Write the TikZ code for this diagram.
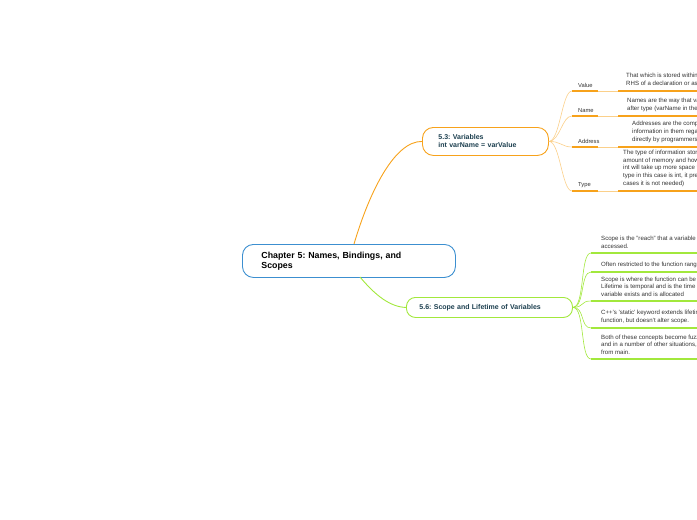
\documentclass[tikz,border=0pt]{standalone}
\usepackage{fontspec}
\setmainfont{Liberation Sans}
\frenchspacing
\definecolor{org}{HTML}{F7A21B}
\definecolor{orgl}{HTML}{FBD08A}
\definecolor{grn}{HTML}{A2E83C}
\definecolor{grnl}{HTML}{CFF59A}
\definecolor{blu}{HTML}{3C8FD0}
\definecolor{ttl}{HTML}{1C3F4F}
\definecolor{txt}{HTML}{333333}
\begin{document}
\begin{tikzpicture}[x=1pt,y=-1pt,
  topic/.style={draw,rounded corners=11pt,line width=0.9pt,font=\bfseries,align=left,inner sep=0pt,anchor=north west},
  small/.style={font=\fontsize{6.1}{7.8}\selectfont,text=txt,align=left,inner sep=0pt,anchor=south west},
  lbl/.style={font=\fontsize{5.8}{6.5}\selectfont,text=txt,inner sep=0pt,anchor=south west}]
\useasboundingbox (0,0) rectangle (697,520);
\clip (0,0) rectangle (697,520);
% root
\node[topic,draw=blu,minimum width=213pt,minimum height=33pt,text width=213pt,font=\fontsize{8.8}{10}\selectfont\bfseries,text=black] (root) at (242,244) {\hspace*{19pt}Chapter 5: Names, Bindings, and\\\hspace*{19pt}Scopes};
% variables
\node[topic,draw=org,minimum width=126pt,minimum height=28pt,text width=126pt,font=\fontsize{7}{8}\selectfont\bfseries,text=ttl] (var) at (422,127) {\hspace*{16pt}5.3: Variables\\\hspace*{16pt}int varName = varValue};
% scope
\node[topic,draw=grn,rounded corners=9pt,minimum width=166pt,minimum height=20pt,text width=166pt,font=\fontsize{7}{8}\selectfont\bfseries,text=ttl] (scp) at (406,297) {\hspace*{13pt}5.6: Scope and Lifetime of Variables};
\coordinate (rv) at (354,244);
\coordinate (rs) at (360,277);
\draw[org,line width=0.9pt] (rv) .. controls (370,190) and (395,141) .. (var.west);
\draw[grn,line width=0.9pt] (rs) .. controls (375,295) and (390,307) .. (scp.west);
% variable children
\foreach \nm/\y/\lab/\tx/\tX in {
  a/91/Value/{That which is stored within a variable, the\\RHS of a declaration or assignment}/626,
  b/116/Name/{Names are the way that variables are referred to,\\after type (varName in the example)}/627,
  c/147/Address/{Addresses are the computer memory locations that hold\\information in them regarding the variable; not used\\directly by programmers in most languages}/632,
  d/191/Type/{The type of information stored, which determines the\\amount of memory and how it is interpreted; e.g. a\\int will take up more space than a char. The\\type in this case is int, it precedes the name (in some\\cases it is not needed)}/623}{
  \coordinate (s\nm) at (572,\y);
  \draw[orgl,line width=0.6pt] (var.east) .. controls (560,141) and (562,\y) .. (s\nm);
  \draw[org,line width=1.3pt] (s\nm) -- (598,\y);
  \draw[orgl,line width=0.6pt] (598,\y) -- (618,\y);
  \draw[org,line width=1.3pt] (618,\y) -- (697,\y);
  \node[lbl] (l\nm) at (578,\y-3) {\lab};
  \node[small] (t\nm) at (\tX,\y-4) {\tx};
}
% scope children
\foreach \nm/\y/\tx in {
  a/253/{Scope is the "reach" that a variable has, where it can be\\accessed.},
  b/272/{Often restricted to the function range},
  c/301/{Scope is where the function can be accessed;\\Lifetime is temporal and is the time in which the\\variable exists and is allocated},
  d/328/{C++'s 'static' keyword extends lifetime beyond the\\function, but doesn't alter scope.},
  e/359/{Both of these concepts become fuzzy in C++\\and in a number of other situations, away\\from main.}}{
  \coordinate (g\nm) at (591,\y);
  \draw[grn,line width=0.6pt] (scp.east) .. controls (585,307) and (580,\y) .. (g\nm);
  \draw[grn,line width=1.3pt] (g\nm) -- (697,\y);
  \node[small] (u\nm) at (601,\y-4) {\tx};
}
\end{tikzpicture}
\end{document}
